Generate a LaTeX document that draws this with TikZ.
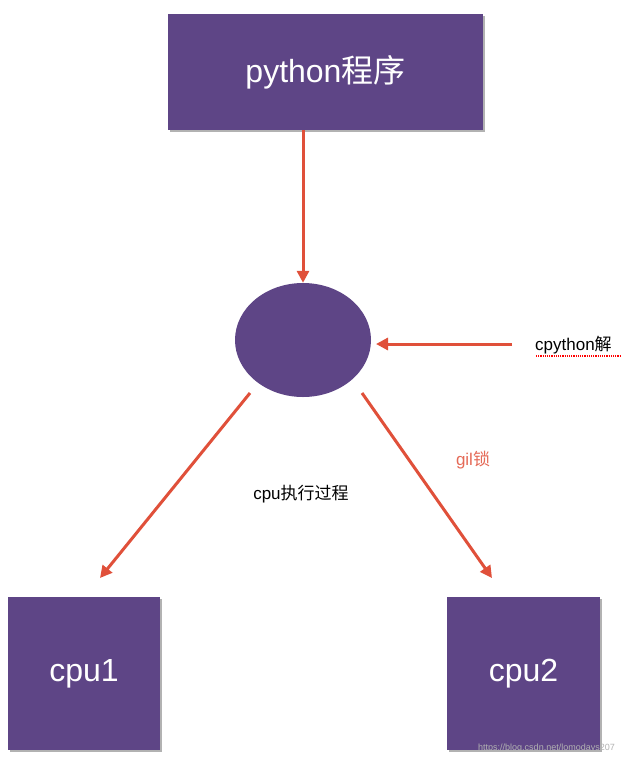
\documentclass[tikz,border=0pt]{standalone}
\usepackage{fontspec}
\setmainfont{Liberation Sans}
\newfontfamily\cjk{Noto Sans CJK SC}
\usetikzlibrary{arrows.meta,shadows,shapes.geometric}
\definecolor{pur}{HTML}{5E4586}
\definecolor{arr}{HTML}{E0503A}
\tikzset{
  box/.style={fill=pur,draw=none,drop shadow={shadow xshift=2pt,shadow yshift=-2pt,opacity=0.6},text=white,font=\fontsize{32}{36}\selectfont},
  conn/.style={draw=arr,line width=3pt,-{Triangle[length=12pt,width=12pt]}},
  lbl/.style={font=\fontsize{17}{20}\selectfont}
}
\begin{document}
\begin{tikzpicture}[x=1pt,y=-1pt]
\useasboundingbox[fill=white] (0,0) rectangle (623,766);
\node[box,minimum width=315pt,minimum height=116pt] (prog) at (325.5,72) {python{\cjk 程序}};
\node[fill=pur,ellipse,minimum width=136pt,minimum height=114pt,inner sep=0pt] (gil) at (303,340) {};
\node[box,minimum width=152pt,minimum height=153pt] (c1) at (84,673.5) {cpu1};
\node[box,minimum width=153pt,minimum height=153pt] (c2) at (523.5,673.5) {cpu2};
\node[lbl,anchor=west,inner sep=0pt] (cp) at (535,345) {cpython{\cjk 解}};
\draw[red,densely dotted,line width=1.2pt] (536,356) -- (620,356);
\node[lbl,text=arr!85] (gl) at (473,460) {gil{\cjk 锁}};
\node[lbl] (ex) at (301,494) {cpu{\cjk 执行过程}};
\node[font=\fontsize{9}{10}\selectfont,text=gray!60,anchor=east,inner sep=0pt] (wm) at (615,748) {https://blog.csdn.net/lomodays207};
\coordinate (a) at (512,344);
\coordinate (l0) at (250,393);
\coordinate (l1) at (100,578);
\coordinate (r0) at (362,393);
\coordinate (r1) at (492,578);
\coordinate (g1) at (376,344);
\draw[conn] (prog.south -| gil) -- (gil.north);
\draw[conn] (a) -- (g1);
\draw[conn] (l0) -- (l1);
\draw[conn] (r0) -- (r1);
\end{tikzpicture}
\end{document}
